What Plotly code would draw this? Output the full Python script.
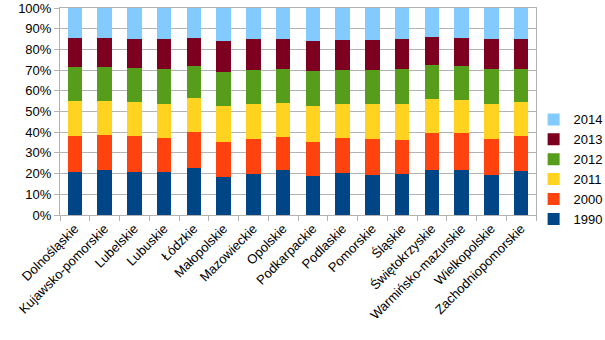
import plotly.graph_objects as go

regions = [
    "Dolnośląskie", "Kujawsko-pomorskie", "Lubelskie", "Lubuskie", "Łódzkie",
    "Małopolskie", "Mazowieckie", "Opolskie", "Podkarpackie", "Podlaskie",
    "Pomorskie", "Śląskie", "Świętokrzyskie", "Warmińsko-mazurskie",
    "Wielkopolskie", "Zachodniopomorskie",
]

# Share of each year in the regional total (percent)
y1990 = [20.9, 21.7, 20.8, 20.9, 22.9, 18.5, 19.6, 21.7, 19.0, 20.4, 19.5, 19.6, 21.7, 21.7, 19.5, 21.4]
y2000 = [17.4, 17.1, 17.2, 16.5, 17.2, 16.8, 17.1, 16.1, 16.4, 17.0, 17.2, 16.8, 18.1, 17.9, 17.1, 16.9]
y2011 = [16.6, 16.4, 16.7, 16.4, 16.3, 17.4, 16.9, 16.3, 17.4, 16.1, 16.9, 17.2, 16.2, 16.1, 17.0, 16.3]
y2012 = [16.4, 16.1, 16.3, 16.7, 15.6, 16.5, 16.6, 16.6, 16.8, 16.4, 16.4, 16.8, 16.3, 16.1, 16.8, 15.9]
y2013 = [14.1, 14.1, 14.0, 14.5, 13.7, 15.0, 14.7, 14.5, 14.6, 14.6, 14.4, 14.6, 13.7, 13.7, 14.5, 14.5]
y2014 = [14.6, 14.6, 15.0, 15.0, 14.3, 15.8, 15.1, 14.8, 15.8, 15.5, 15.6, 15.0, 14.0, 14.5, 15.1, 15.0]

series = [
    ("1990", y1990, "#004586"),
    ("2000", y2000, "#FF420E"),
    ("2011", y2011, "#FFD320"),
    ("2012", y2012, "#579D1C"),
    ("2013", y2013, "#7E0021"),
    ("2014", y2014, "#83CAFF"),
]

fig = go.Figure()
for name, vals, color in series:
    fig.add_trace(go.Bar(
        x=regions, y=vals, name=name,
        marker=dict(color=color, line=dict(width=0)),
    ))

font = "Liberation Sans, Arial, sans-serif"
fig.update_layout(
    width=605, height=340,
    barmode="stack", bargap=0.52,
    paper_bgcolor="white", plot_bgcolor="white",
    margin=dict(l=60, r=69, t=8, b=125, autoexpand=False),
    font=dict(family=font, size=13, color="#000000"),
    legend=dict(
        traceorder="reversed",
        x=0.995, xanchor="left", y=0.22, yanchor="middle",
        font=dict(size=13), itemwidth=30, tracegroupgap=0,
        bgcolor="rgba(0,0,0,0)",
    ),
    xaxis=dict(
        tickangle=-45, tickson="boundaries", ticks="outside", ticklen=5,
        tickcolor="#b3b3b3", showline=True, linecolor="#b3b3b3", mirror=True,
        showgrid=False, automargin=False,
    ),
    yaxis=dict(
        range=[0, 100], dtick=10, ticksuffix="%", ticks="outside", ticklen=5,
        tickcolor="#b3b3b3", showline=True, linecolor="#b3b3b3", mirror=True,
        showgrid=True, gridcolor="#b3b3b3", gridwidth=1, zeroline=False,
        automargin=False,
    ),
)

fig.write_html("out.html")
